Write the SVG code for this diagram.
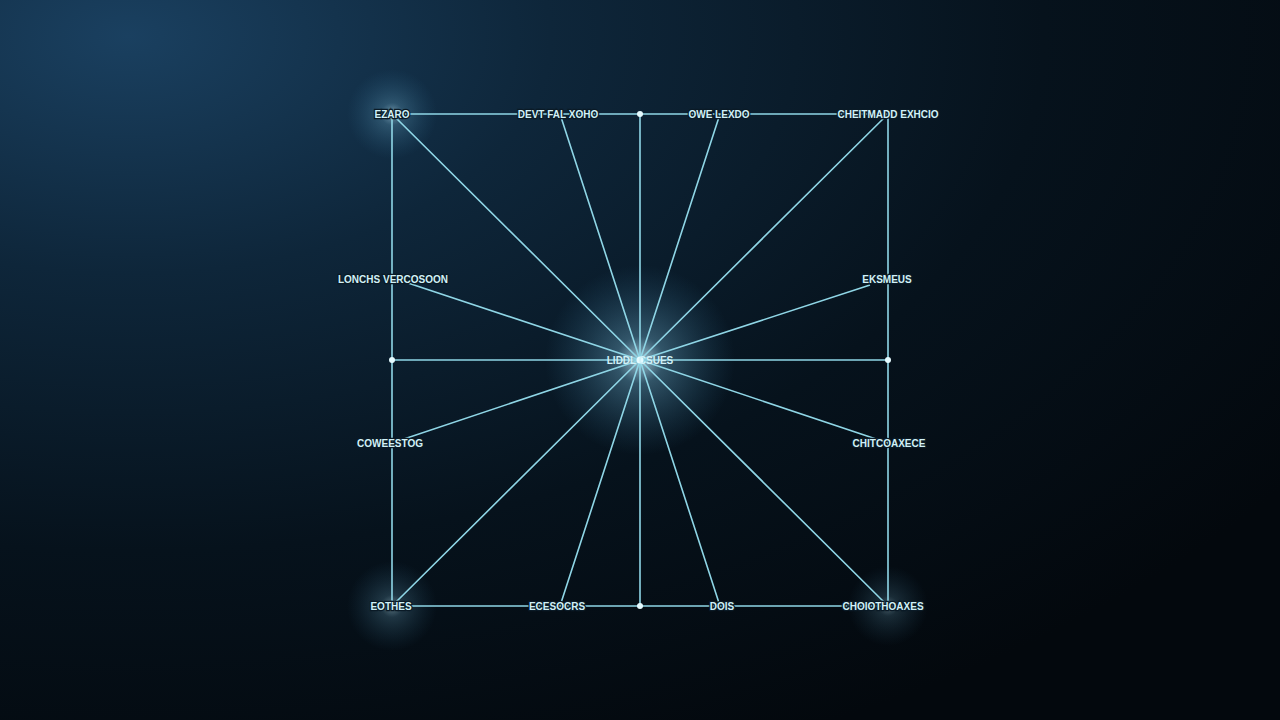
<svg xmlns="http://www.w3.org/2000/svg" width="1280" height="720" viewBox="0 0 1280 720">
<defs>
<radialGradient id="bg" cx="0.1" cy="0.05" r="1.1">
<stop offset="0" stop-color="#1a4060"/>
<stop offset="0.3" stop-color="#0e263a"/>
<stop offset="0.65" stop-color="#06121c"/>
<stop offset="1" stop-color="#03080d"/>
</radialGradient>
<radialGradient id="glow">
<stop offset="0" stop-color="#d6f4ff" stop-opacity="0.8"/>
<stop offset="0.25" stop-color="#7fc6e6" stop-opacity="0.35"/>
<stop offset="1" stop-color="#3a86b0" stop-opacity="0"/>
</radialGradient>
<style>
.ln{stroke:#8fd6e6;stroke-width:1.6;fill:none}
.dot{fill:#e6fbff}
.lb{font-family:"Liberation Sans",Arial,sans-serif;font-size:10px;font-weight:bold;fill:#d2f1f7;text-anchor:middle;dominant-baseline:central;paint-order:stroke;stroke:#0a1a26;stroke-width:2.5px}
.lc{font-family:"Liberation Sans",Arial,sans-serif;font-size:10px;font-weight:bold;fill:#d2f1f7;text-anchor:middle;dominant-baseline:central}
</style>
</defs>
<rect width="1280" height="720" fill="url(#bg)"/>
<g id="glows">
<circle cx="640" cy="360" r="95" fill="url(#glow)"/>
<circle cx="392" cy="114" r="45" fill="url(#glow)" opacity="0.7"/>
<circle cx="392" cy="606" r="45" fill="url(#glow)" opacity="0.6"/>
<circle cx="888" cy="606" r="40" fill="url(#glow)" opacity="0.5"/>
</g>
<g id="connectors" class="ln">
<path d="M392 114H888M392 606H888M392 114V606M888 114V606M640 114V606M392 360H888"/>
<path d="M640 360L392 114M640 360L560 114M640 360L720 114M640 360L888 114M640 360L870 285M640 360L888 443M640 360L888 606M640 360L720 606M640 360L560 606M640 360L392 606M640 360L392 443M640 360L405 282"/>
</g>
<g id="n-c1"><circle class="dot" cx="640" cy="114" r="3"/></g>
<g id="n-c2"><circle class="dot" cx="392" cy="360" r="3"/></g>
<g id="n-c3"><circle class="dot" cx="888" cy="360" r="3"/></g>
<g id="n-c4"><circle class="dot" cx="640" cy="606" r="3"/></g>
<g id="n-center"><circle class="dot" cx="640" cy="360" r="3.5"/><text class="lc" x="640" y="360">LIDDL CSUES</text></g>
<g id="n-tl"><text class="lb" x="392" y="114">EZARO</text></g>
<g id="n-t2"><text class="lb" x="558" y="114">DEVT FAL XOHO</text></g>
<g id="n-t3"><text class="lb" x="719" y="114">OWE LEXDO</text></g>
<g id="n-tr"><text class="lb" x="888" y="114">CHEITMADD EXHCIO</text></g>
<g id="n-l1"><text class="lb" x="393" y="279">LONCHS VERCOSOON</text></g>
<g id="n-r1"><text class="lb" x="887" y="279">EKSMEUS</text></g>
<g id="n-l2"><text class="lb" x="390" y="443">COWEESTOG</text></g>
<g id="n-r2"><text class="lb" x="889" y="443">CHITCOAXECE</text></g>
<g id="n-bl"><text class="lb" x="391" y="606">EOTHES</text></g>
<g id="n-b2"><text class="lb" x="557" y="606">ECESOCRS</text></g>
<g id="n-b3"><text class="lb" x="722" y="606">DOIS</text></g>
<g id="n-br"><text class="lb" x="883" y="606">CHOIOTHOAXES</text></g>
</svg>
